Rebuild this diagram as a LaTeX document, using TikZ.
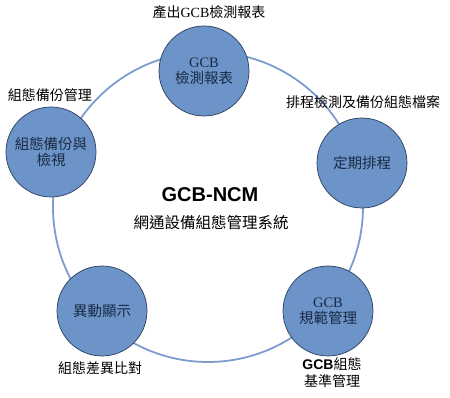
\documentclass[tikz,border=0pt]{standalone}
\usepackage{fontspec}
\setmainfont{Liberation Serif}
\newfontfamily\cjk{Noto Sans CJK TC}
\newfontfamily\arialb{Liberation Sans}
\definecolor{nodefill}{HTML}{6C94C8}
\definecolor{nodeedge}{HTML}{2B3E5E}
\definecolor{ringc}{HTML}{7C9CD0}
\definecolor{ntext}{HTML}{1A2A44}
\begin{document}
\begin{tikzpicture}[x=1pt,y=-1pt,
  phase/.style={circle,draw=nodeedge,line width=0.7pt,fill=nodefill,minimum size=90pt,inner sep=0pt,text=ntext,align=center,font=\fontsize{14.5}{18}\selectfont},
  lbl/.style={align=center,text=black,font=\cjk\fontsize{14}{17}\selectfont,inner sep=0pt}]
\useasboundingbox (0,0) rectangle (450,398);
\fill[white] (0,0) rectangle (450,398);
\node[circle,draw=ringc,line width=1.8pt,minimum size=310pt,inner sep=0pt] (ring) at (208,207) {};
\node[phase] (top) at (204,71) {GCB\\[-2pt]{\cjk 檢測報表}};
\node[phase] (right) at (362,163) {\cjk 定期排程};
\node[phase] (left) at (51,152) {\cjk 組態備份與\\[-2pt]\cjk 檢視};
\node[phase] (bl) at (102,311) {\cjk 異動顯示};
\node[phase] (br) at (328,311) {GCB\\[-2pt]{\cjk 規範管理}};
\node[font=\arialb\bfseries\fontsize{20}{24}\selectfont,inner sep=0pt] (title) at (210,195) {GCB-NCM};
\node[font=\cjk\fontsize{15.5}{18}\selectfont,inner sep=0pt] (sub) at (211,223) {網通設備組態管理系統};
\node[lbl] (ltop) at (209,12) {產出{\rmfamily GCB}檢測報表};
\node[lbl] (lright) at (363,102) {排程檢測及備份組態檔案};
\node[lbl] (lleft) at (50,95) {組態備份管理};
\node[lbl] (lbl2) at (100,368) {組態差異比對};
\node[lbl] (lbr) at (332,373) {{\arialb\bfseries GCB}組態\\基準管理};
\end{tikzpicture}
\end{document}
